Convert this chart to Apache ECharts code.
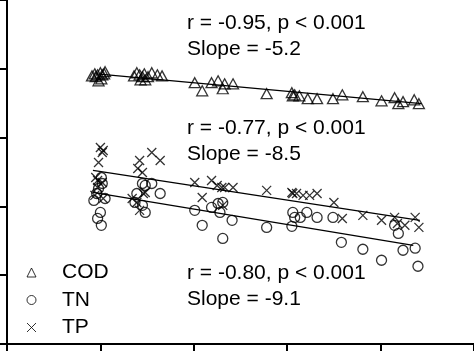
<!DOCTYPE html>
<html>
<head>
<meta charset="utf-8">
<script src="https://cdn.jsdelivr.net/npm/echarts@6/dist/echarts.min.js"></script>
<style>
html,body{margin:0;padding:0;background:#fff;}
#chart{width:474px;height:351px;}
</style>
</head>
<body>
<div id="chart"></div>
<script>
// ---- data (x: 0..5, y: 0..200 arbitrary units, axis labels cropped in the reference) ----
const seriesNames = ['COD', 'TN', 'TP'];

const codPoints = [
  [0.91,155.9],[0.94,157.1],[0.97,156.5],[1.00,157.7],[1.02,156.5],[1.04,157.1],[1.01,154.2],[0.98,153.0],[0.95,155.4],[1.05,158.3],
  [1.36,155.9],[1.39,157.7],[1.42,156.5],[1.45,155.4],[1.47,157.1],[1.43,153.6],[1.48,153.6],[1.51,155.4],[1.55,157.7],[1.61,156.5],[1.66,155.9],
  [2.01,151.9],[2.09,147.2],[2.19,151.9],[2.26,153.0],[2.31,148.4],[2.33,151.3],[2.42,151.3],[2.78,145.5],
  [3.05,146.1],[3.06,144.3],[3.08,144.9],[3.13,144.3],[3.22,142.6],[3.32,142.6],[3.49,142.6],[3.59,144.9],[3.81,143.8],[4.01,141.4],[4.15,143.2],[4.19,139.7],[4.24,140.9],[4.36,142.0],[4.41,139.7]
];

const tnPoints = [
  [1.01,96.8],[1.02,93.3],[0.98,90.4],[0.93,83.5],[1.05,84.6],[1.00,76.5],[0.97,73.0],[1.01,69.0],[0.96,87.5],
  [1.45,93.3],[1.48,92.2],[1.55,93.3],[1.39,87.5],[1.37,82.3],[1.45,80.6],[1.48,76.5],[1.64,87.5],
  [2.01,77.7],[2.09,69.0],[2.19,79.4],[2.26,81.7],[2.28,76.5],[2.31,82.3],[2.41,71.9],[2.31,61.4],[2.78,67.8],
  [3.06,76.5],[3.08,73.6],[3.14,73.6],[3.05,68.4],[3.21,76.5],[3.32,73.6],[3.49,73.6],[3.58,59.1],[3.81,55.1],[4.01,48.7],[4.15,69.0],[4.19,64.3],[4.24,54.5],[4.37,55.7],[4.40,45.2]
];

const tpPoints = [
  [1.00,114.2],[1.02,111.3],[0.98,105.5],[1.03,112.5],[0.95,96.8],[0.97,95.1],[1.02,93.9],[0.94,86.4],[1.03,84.6],[0.97,91.0],
  [1.42,106.7],[1.40,102.0],[1.45,99.7],[1.55,111.3],[1.64,106.7],[1.46,87.5],[1.48,88.1],[1.39,82.3],[1.34,84.6],[1.42,77.7],
  [2.01,93.9],[2.19,95.1],[2.25,92.2],[2.30,91.0],[2.33,91.0],[2.42,91.0],[2.09,85.2],[2.31,80.6],[2.78,89.3],
  [3.05,88.1],[3.06,87.5],[3.10,87.5],[3.17,86.4],[3.24,86.4],[3.32,87.5],[3.50,82.3],[3.59,73.0],[3.81,74.8],[4.01,71.9],[4.15,73.6],[4.18,70.1],[4.26,69.0],[4.37,73.6],[4.41,67.8]
];

// regression lines (end points)
const codFit = [[0.96,157.1],[4.44,139.7]];
const tpFit  = [[0.92,100.9],[4.42,71.9]];
const tnFit  = [[0.92,88.1],[4.35,57.4]];

// annotation texts
const statTexts = [
  ['r = -0.95, p < 0.001', 'Slope = -5.2'],
  ['r = -0.77, p < 0.001', 'Slope = -8.5'],
  ['r = -0.80, p < 0.001', 'Slope = -9.1']
];

// axis ticks
const xMin = 0, xMax = 5, xStep = 1;
const yMin = 0, yMax = 200, yStep = 40;

// ---- chart ----
const FONT = '"Liberation Sans", Arial, Helvetica, sans-serif';
const chart = echarts.init(document.getElementById('chart'), null, {renderer: 'canvas'});

const crossPath = 'path://M0,0L10,10M10,0L0,10';
const hollow = {color: 'rgba(0,0,0,0)', borderColor: '#000', borderWidth: 1.3};

const statY = [[23.5, 49.5], [128.5, 154.5], [273.5, 299.5]];
const graphics = [];
statTexts.forEach((pair, i) => {
  pair.forEach((t, j) => {
    graphics.push({
      type: 'text', x: 187, y: statY[i][j], silent: true,
      style: {text: t, font: '21px ' + FONT, fill: '#000', verticalAlign: 'middle', align: 'left'}
    });
  });
});

function fitSeries(data) {
  return {
    type: 'line', data: data, symbol: 'none', silent: true,
    lineStyle: {color: '#000', width: 1.3}, z: 1
  };
}

chart.setOption({
  animation: false,
  backgroundColor: '#fff',
  grid: {left: 7, right: 0, top: -1, bottom: 7, containLabel: false},
  xAxis: {
    type: 'value', min: xMin, max: xMax, interval: xStep,
    axisLine: {show: true, onZero: false, lineStyle: {color: '#000', width: 2}},
    axisTick: {show: true, inside: false, length: 8, lineStyle: {color: '#000', width: 2}},
    axisLabel: {show: false},
    splitLine: {show: false}
  },
  yAxis: {
    type: 'value', min: yMin, max: yMax, interval: yStep,
    axisLine: {show: true, onZero: false, lineStyle: {color: '#000', width: 2}},
    axisTick: {show: true, inside: false, length: 7, lineStyle: {color: '#000', width: 2}},
    axisLabel: {show: false},
    splitLine: {show: false}
  },
  legend: {
    data: seriesNames,
    orient: 'vertical',
    left: 26.5, top: 262,
    padding: 0,
    itemGap: 6.5,
    itemWidth: 9, itemHeight: 9,
    itemStyle: {borderWidth: 1},
    textStyle: {fontFamily: FONT, fontSize: 21, color: '#000', lineHeight: 21, padding: [0, 0, 0, 21]},
    selectedMode: false
  },
  graphic: graphics,
  series: [
    {name: 'COD', type: 'scatter', data: codPoints, symbol: 'triangle', symbolSize: [11, 10], itemStyle: hollow, z: 3},
    {name: 'TN', type: 'scatter', data: tnPoints, symbol: 'circle', symbolSize: 10, itemStyle: hollow, z: 3},
    {name: 'TP', type: 'scatter', data: tpPoints, symbol: crossPath, symbolSize: 9, itemStyle: hollow, z: 3},
    fitSeries(codFit), fitSeries(tpFit), fitSeries(tnFit)
  ]
});
</script>
</body>
</html>
